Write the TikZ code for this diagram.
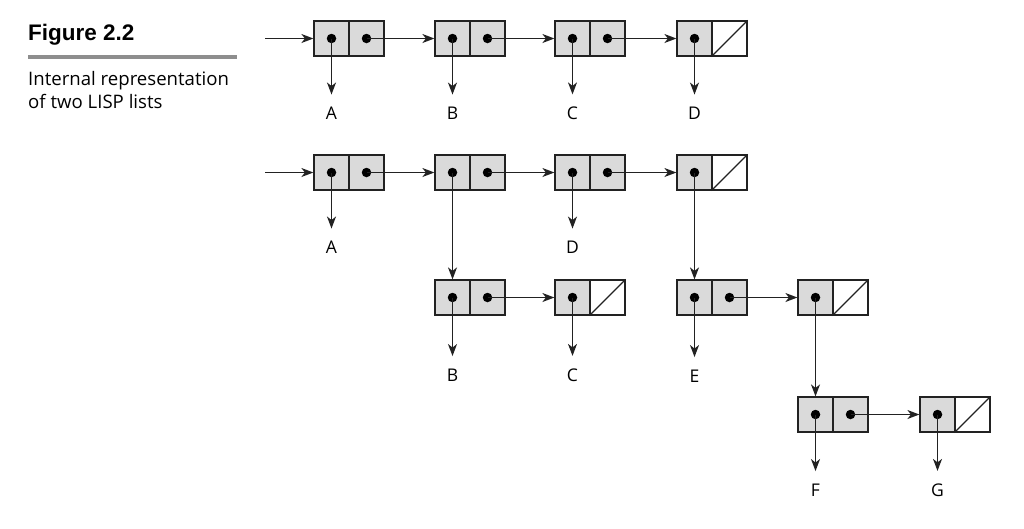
\documentclass[tikz,border=0pt]{standalone}
\usepackage{fontspec}
\setmainfont{Open Sans}
\newfontfamily\titlefont{Liberation Sans}
\usetikzlibrary{arrows.meta}
\definecolor{cellgray}{HTML}{DADADA}
\definecolor{rulegray}{HTML}{8E8E8E}
\definecolor{linegray}{HTML}{222222}
\tikzset{
  cellbox/.style={draw=linegray, line width=1.2pt, fill=cellgray, minimum width=35pt, minimum height=35pt, inner sep=0pt},
  nilbox/.style={draw=linegray, line width=1.2pt, fill=white, minimum width=35pt, minimum height=35pt, inner sep=0pt},
  dotnode/.style={circle, fill=black, inner sep=0pt, minimum size=9.5pt},
  link/.style={draw=linegray, line width=1.3pt, -{Stealth[length=12pt,width=9pt,inset=3.5pt]}},
  atomlabel/.style={font=\fontsize{17.5}{19}\selectfont, inner sep=0pt},
}
\newcommand\mycons[3]{% name, left x, center y
  \node[cellbox] (#1L) at (#2+17.5,#3) {};
  \node[cellbox] (#1R) at (#2+52.5,#3) {};
  \node[dotnode] (#1d) at (#1L.center) {};
  \node[dotnode] (#1e) at (#1R.center) {};
}
\newcommand\mynil[3]{% name, left x, center y
  \node[cellbox] (#1L) at (#2+17.5,#3) {};
  \node[nilbox] (#1R) at (#2+52.5,#3) {};
  \draw[draw=linegray, line width=1.2pt] (#1R.south west) -- (#1R.north east);
  \node[dotnode] (#1d) at (#1L.center) {};
}
\begin{document}
\begin{tikzpicture}[x=1pt,y=-1pt]
\useasboundingbox (0,0) rectangle (1024,528);
% caption
\node[anchor=base west, inner sep=0pt, font=\titlefont\bfseries\fontsize{22.5}{24}\selectfont] (title) at (28,40) {Figure 2.2};
\fill[rulegray] (28,55) rectangle (237,59);
\node[anchor=base west, inner sep=0pt, align=left, font=\fontsize{18.6}{23}\selectfont] (cap) at (28,108) {Internal representation\\of two LISP lists};

% row 1
\coordinate (s1) at (265,38.5);
\mycons{a}{314}{38.5}
\mycons{b}{435}{38.5}
\mycons{c}{555}{38.5}
\mynil{d}{677}{38.5}
\draw[link] (s1) -- (aL.west);
\draw[link] (ae.center) -- (bL.west);
\draw[link] (be.center) -- (cL.west);
\draw[link] (ce.center) -- (dL.west);
\node[atomlabel] (la) at (331.5,113.5) {A};
\node[atomlabel] (lb) at (452.5,113.5) {B};
\node[atomlabel] (lc) at (572.5,113.5) {C};
\node[atomlabel] (ld) at (694.5,113.5) {D};
\foreach \c/\l in {a/la,b/lb,c/lc,d/ld} \draw[link, shorten >=12.5pt] (\c d.center) -- (\l.north);

% row 2
\coordinate (s2) at (265,172.5);
\mycons{e}{314}{172.5}
\mycons{f}{435}{172.5}
\mycons{h}{555}{172.5}
\mynil{i}{677}{172.5}
\draw[link] (s2) -- (eL.west);
\draw[link] (ee.center) -- (fL.west);
\draw[link] (fe.center) -- (hL.west);
\draw[link] (he.center) -- (iL.west);
\node[atomlabel] (le) at (331.5,247.5) {A};
\node[atomlabel] (lh) at (572.5,247.5) {D};
\foreach \c/\l in {e/le,h/lh} \draw[link, shorten >=12.5pt] (\c d.center) -- (\l.north);

% row 3
\mycons{g}{435}{297.5}
\mynil{k}{555}{297.5}
\mycons{j}{677}{297.5}
\mynil{l}{798}{297.5}
\draw[link] (fd.center) -- (gL.north);
\draw[link] (id.center) -- (jL.north);
\draw[link] (ge.center) -- (kL.west);
\draw[link] (je.center) -- (lL.west);
\node[atomlabel] (lg) at (452.5,375) {B};
\node[atomlabel] (lk) at (572.5,375) {C};
\node[atomlabel] (lj) at (694.5,376) {E};
\foreach \c/\l in {g/lg,k/lk,j/lj} \draw[link, shorten >=12.5pt] (\c d.center) -- (\l.north);

% row 4
\mycons{m}{798}{414.5}
\mynil{n}{920}{414.5}
\draw[link] (ld.center) -- (mL.north);
\draw[link] (me.center) -- (nL.west);
\node[atomlabel] (lm) at (815.5,490) {F};
\node[atomlabel] (ln) at (937.5,490) {G};
\foreach \c/\l in {m/lm,n/ln} \draw[link, shorten >=12.5pt] (\c d.center) -- (\l.north);
\end{tikzpicture}
\end{document}
